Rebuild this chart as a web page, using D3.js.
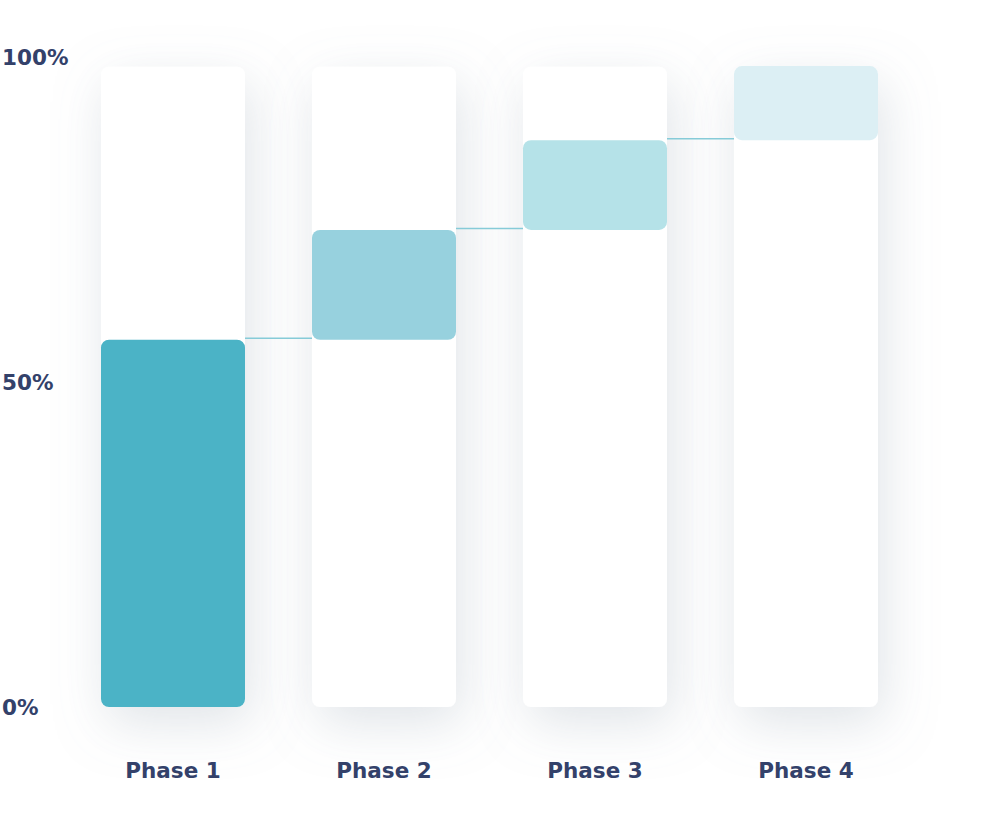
<!DOCTYPE html>
<html>
<head>
<meta charset="utf-8">
<script src="https://cdn.jsdelivr.net/npm/d3@7"></script>
<style>
  html, body { margin: 0; padding: 0; background: #ffffff; }
  svg { display: block; }
</style>
</head>
<body>
<svg id="chart" width="991" height="828"></svg>
<script>
// ---- data ----
const phases = ["Phase 1", "Phase 2", "Phase 3", "Phase 4"];
const phaseStart = [0, 56.5, 73.4, 87.2];
const phaseEnd = [56.5, 73.4, 87.2, 98.6];
const trackMax = 98.5;
const tickValues = [0, 50, 100];
const tickLabels = ["0%", "50%", "100%"];
const colors = ["#4bb3c6", "#97d1de", "#b5e2e8", "#dceff4"];

// ---- layout ----
const svg = d3.select("#chart");
const x = d3.scaleBand().domain(phases).range([101, 878]).paddingInner(0.3175).paddingOuter(0);
const y = d3.scaleLinear().domain([0, 100]).range([707, 57]);

const defs = svg.append("defs");
const f = defs.append("filter").attr("id", "shadow")
  .attr("x", "-80%").attr("y", "-25%").attr("width", "260%").attr("height", "150%");
f.append("feDropShadow").attr("dx", 6).attr("dy", 16).attr("stdDeviation", 26)
  .attr("flood-color", "#8797a4").attr("flood-opacity", 0.26);

// background tracks
svg.append("g").selectAll("rect").data(phases).join("rect")
  .attr("x", d => x(d))
  .attr("width", x.bandwidth())
  .attr("y", y(trackMax))
  .attr("height", y(0) - y(trackMax))
  .attr("rx", 8)
  .attr("fill", "#ffffff")
  .attr("filter", "url(#shadow)");

// connectors
const conn = d3.range(phases.length - 1);
svg.append("g").selectAll("line").data(conn).join("line")
  .attr("x1", i => x(phases[i]) + x.bandwidth())
  .attr("x2", i => x(phases[i + 1]))
  .attr("y1", i => y(phaseEnd[i]) - 1.5)
  .attr("y2", i => y(phaseEnd[i]) - 1.5)
  .attr("stroke", "#86cbd8")
  .attr("stroke-width", 1.5);

// bars
svg.append("g").selectAll("rect").data(phases).join("rect")
  .attr("x", d => x(d))
  .attr("width", x.bandwidth())
  .attr("y", (d, i) => y(phaseEnd[i]))
  .attr("height", (d, i) => y(phaseStart[i]) - y(phaseEnd[i]))
  .attr("rx", 8)
  .attr("fill", (d, i) => colors[i]);

// y tick labels
svg.append("g").selectAll("text").data(tickValues).join("text")
  .attr("x", 2)
  .attr("y", d => y(d))
  .attr("dy", "0.36em")
  .attr("font-family", "'DejaVu Sans', sans-serif")
  .attr("font-weight", "bold")
  .attr("font-size", 21.5)
  .attr("fill", "#33416a")
  .text((d, i) => tickLabels[i]);

// x labels
svg.append("g").selectAll("text").data(phases).join("text")
  .attr("x", d => x(d) + x.bandwidth() / 2)
  .attr("y", 770)
  .attr("dy", "0.36em")
  .attr("text-anchor", "middle")
  .attr("font-family", "'DejaVu Sans', sans-serif")
  .attr("font-weight", "bold")
  .attr("font-size", 21.5)
  .attr("fill", "#33416a")
  .text(d => d);
</script>
</body>
</html>
